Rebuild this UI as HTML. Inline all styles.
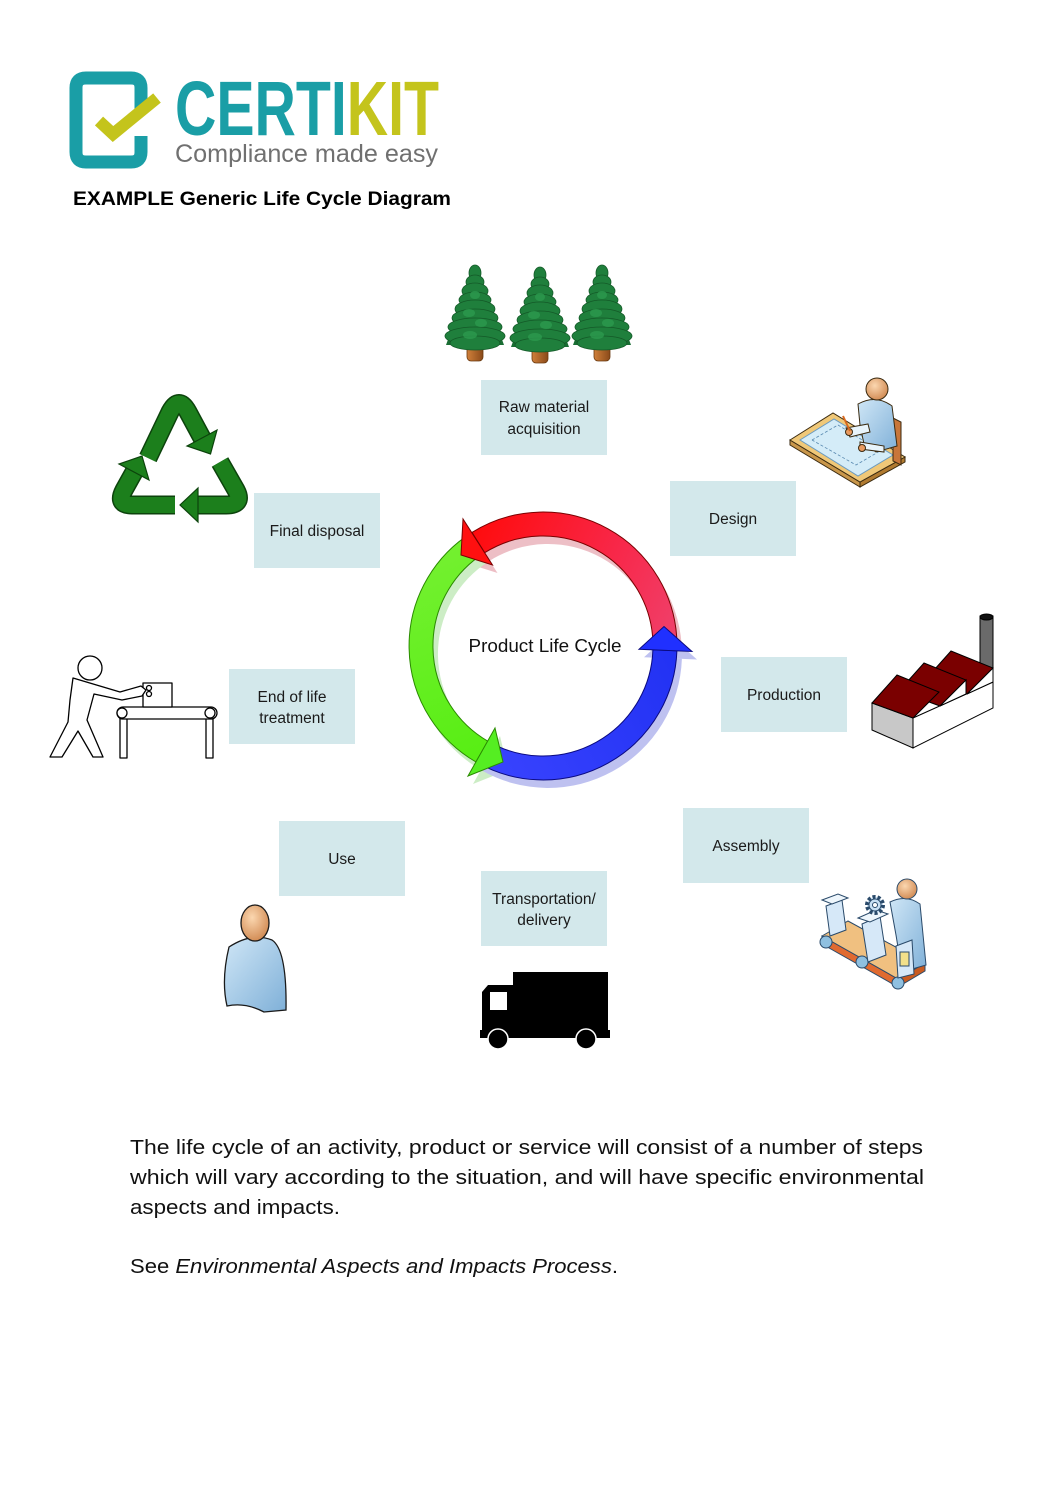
<!DOCTYPE html>
<html><head><meta charset="utf-8"><style>
html,body{margin:0;padding:0;background:#fff;}
svg{display:block;}
text{font-family:"Liberation Sans",Arial,sans-serif;}
</style></head><body>
<svg width="1059" height="1497" viewBox="0 0 1059 1497" xmlns="http://www.w3.org/2000/svg">
<defs>
<linearGradient id="gR" gradientUnits="userSpaceOnUse" x1="460" y1="540" x2="690" y2="640"><stop offset="0" stop-color="#ff0a0a"/><stop offset="0.6" stop-color="#f8284a"/><stop offset="1" stop-color="#ee4470"/></linearGradient>
<linearGradient id="gG" gradientUnits="userSpaceOnUse" x1="400" y1="540" x2="500" y2="770"><stop offset="0" stop-color="#77f033"/><stop offset="1" stop-color="#55ee11"/></linearGradient>
<linearGradient id="gB" gradientUnits="userSpaceOnUse" x1="470" y1="760" x2="690" y2="640"><stop offset="0" stop-color="#3a44ff"/><stop offset="1" stop-color="#2030f2"/></linearGradient>
<radialGradient id="gHead" cx="0.4" cy="0.35" r="0.7"><stop offset="0" stop-color="#fbd7b0"/><stop offset="1" stop-color="#d08850"/></radialGradient>
<linearGradient id="gBody" x1="0" y1="0" x2="1" y2="1"><stop offset="0" stop-color="#cfe6f6"/><stop offset="1" stop-color="#7fb0d8"/></linearGradient>
<linearGradient id="gTrunk" x1="0" y1="0" x2="1" y2="0"><stop offset="0" stop-color="#d0803a"/><stop offset="1" stop-color="#8a4a1a"/></linearGradient>
</defs>

<!-- Logo -->
<path d="M141,110 L141,88 Q141,78 131,78 L86,78 Q76,78 76,88 L76,152 Q76,162 86,162 L131,162 Q141,162 141,152 L141,136" fill="none" stroke="#1a9ea6" stroke-width="13"/>
<polyline points="99,121 113,134 157,98" fill="none" stroke="#c4c41c" stroke-width="12" stroke-linejoin="miter"/>
<text x="175" y="135" font-size="77" font-weight="bold" textLength="264" lengthAdjust="spacingAndGlyphs"><tspan fill="#1a9ea6">CERTI</tspan><tspan fill="#c4c41c">KIT</tspan></text>
<text x="175" y="162" font-size="25" fill="#707070" textLength="263" lengthAdjust="spacingAndGlyphs">Compliance made easy</text>
<text x="73" y="205" font-size="19.5" font-weight="bold" fill="#000" textLength="378" lengthAdjust="spacingAndGlyphs">EXAMPLE Generic Life Cycle Diagram</text>

<!-- Trees -->
<g id="tree1" transform="translate(475,265)">
 <rect x="-8" y="76" width="16" height="20" rx="4" fill="url(#gTrunk)" stroke="#6a3a10" stroke-width="0.8"/>
 <polygon points="0,0 -29,80 29,80" fill="#1a6e34"/>
 <g fill="#1f7f3c" stroke="#145a28" stroke-width="0.8">
  <ellipse cx="0" cy="8" rx="6" ry="8"/>
  <ellipse cx="0" cy="17" rx="9" ry="7"/>
  <ellipse cx="0" cy="26" rx="13" ry="8"/>
  <ellipse cx="0" cy="35" rx="16" ry="8"/>
  <ellipse cx="0" cy="44" rx="20" ry="9"/>
  <ellipse cx="0" cy="53" rx="23" ry="9"/>
  <ellipse cx="0" cy="62" rx="27" ry="9"/>
  <ellipse cx="0" cy="71" rx="30" ry="9"/>
  <ellipse cx="0" cy="78" rx="25" ry="7"/>
 </g>
 <g fill="#2c9a4e" opacity="0.8"><ellipse cx="0" cy="30" rx="5" ry="4"/><ellipse cx="-6" cy="48" rx="6" ry="4"/><ellipse cx="6" cy="58" rx="6" ry="4"/><ellipse cx="-5" cy="70" rx="7" ry="4"/></g>
</g>
<g transform="translate(65,2)"><use href="#tree1"/></g>
<g transform="translate(127,0)"><use href="#tree1"/></g>

<!-- Recycle -->
<g fill="none" stroke-linejoin="round">
 <g stroke="#0c430c" stroke-width="19">
  <path d="M175,505 L132,505 Q116,505 124,490 L134,472"/>
  <path d="M148,458 L170,412 Q179,395 188,412 L202,438"/>
  <path d="M220,462 L236,490 Q244,505 226,505 L198,505"/>
 </g>
 <g stroke="#1c7f1c" stroke-width="16">
  <path d="M175,505 L132,505 Q116,505 124,490 L134,472"/>
  <path d="M148,458 L170,412 Q179,395 188,412 L202,438"/>
  <path d="M220,462 L236,490 Q244,505 226,505 L198,505"/>
 </g>
</g>
<g fill="#1c7f1c" stroke="#0c430c" stroke-width="1.2">
 <polygon points="149,480 119,464 142,456"/>
 <polygon points="187,446 217,430 210.5,454"/>
 <polygon points="198,522 198,488 180,505"/>
</g>

<!-- Designer -->
<g stroke="#3a2a10" stroke-width="1">
 <polygon points="790,440 860,482 860,487 790,445" fill="#c8964a"/>
 <polygon points="860,482 905,457 905,462 860,487" fill="#b07a30"/>
 <polygon points="790,440 833,413 905,457 860,482" fill="#f0c878"/>
 <polygon points="800,440 834,419 893,455 858,476" fill="#d4ecf8" stroke="#6a9ac0"/>
 <polyline points="812,440 838,425 880,451 856,465 812,440" fill="none" stroke="#5a8ab0" stroke-dasharray="3,2" stroke-width="0.8"/>
 <polygon points="893,418 901,422 901,465 893,461" fill="#c8763a"/>
 <path d="M858,404 Q876,394 892,406 L897,446 L876,452 L864,444 L860,425 Z" fill="url(#gBody)"/>
 <path d="M846,428 L868,424 L870,432 L850,437 Z" fill="#e8f4fb"/>
 <path d="M860,442 L884,446 L884,452 L860,449 Z" fill="#e8f4fb"/>
 <circle cx="877" cy="389" r="11" fill="url(#gHead)"/>
 <circle cx="849" cy="432" r="3.5" fill="#e89a60"/>
 <circle cx="862" cy="448" r="3.5" fill="#e89a60"/>
 <line x1="843" y1="416" x2="850" y2="431" stroke="#d86a20" stroke-width="2"/>
</g>

<!-- Factory -->
<g stroke="#000" stroke-width="1">
 <rect x="980" y="616" width="13" height="55" fill="#6a6a6a"/>
 <ellipse cx="986.5" cy="617" rx="6.5" ry="3" fill="#111"/>
 <polygon points="913,748 913,718 993,682 993,708" fill="#fff"/>
 <polygon points="872,703 913,718 913,748 872,730" fill="#c8c8c8"/>
 <polygon points="926,679 951,651 993,668 967,694" fill="#7a0000"/>
 <polygon points="967,694 993,668 993,682" fill="#fff"/>
 <polygon points="899,691 924,663 966,680 940,706" fill="#7a0000"/>
 <polygon points="940,706 966,680 966,694" fill="#fff"/>
 <polygon points="872,703 897,675 939,692 913,718" fill="#7a0000"/>
</g>

<!-- End of life person + conveyor -->
<g fill="#fff" stroke="#000" stroke-width="1.3" stroke-linejoin="round">
 <rect x="120" y="718" width="7" height="40"/>
 <rect x="206" y="718" width="7" height="40"/>
 <rect x="117" y="707" width="100" height="12" rx="6"/>
 <circle cx="122" cy="713" r="5"/>
 <circle cx="210" cy="713" r="5"/>
 <rect x="143" y="683" width="29" height="24"/>
 <circle cx="90" cy="668" r="12"/>
 <path d="M73,678 L120,692 L141,686 L146,690 L142,696 L122,700 L94,694 L87,720 L103,757 L93,757 L78,731 L62,757 L50,757 L68,722 L70,700 Z"/>
 <circle cx="149" cy="688" r="2.5"/><circle cx="149" cy="694" r="2.5"/>
</g>

<!-- User -->
<g stroke="#1a1a1a" stroke-width="1.3">
 <path d="M229,947 Q252,932 272,940 Q287,950 286,1010 L264,1012 Q245,1002 227,1006 Q221,980 229,947 Z" fill="url(#gBody)"/>
 <ellipse cx="255" cy="923" rx="14" ry="18" fill="url(#gHead)"/>
</g>

<!-- Truck -->
<g fill="#000">
 <rect x="513" y="972" width="95" height="66"/>
 <path d="M482,1037 L482,992 L488,985 L513,985 L513,1037 Z"/>
 <rect x="480" y="1030" width="130" height="8"/>
 <circle cx="498" cy="1039" r="10" stroke="#fff" stroke-width="1.5"/>
 <circle cx="586" cy="1039" r="10" stroke="#fff" stroke-width="1.5"/>
</g>
<rect x="490" y="992" width="17" height="18" fill="#fff"/>

<!-- Assembly -->
<g stroke="#2a4a6a" stroke-width="1">
 <polygon points="822,936 898,979 898,987 822,944" fill="#e06a30"/>
 <polygon points="898,979 925,963 925,971 898,987" fill="#c85a20"/>
 <polygon points="822,936 848,921 925,963 898,979" fill="#f0c080"/>
 <circle cx="826" cy="942" r="6" fill="#8fc0e0"/>
 <circle cx="862" cy="962" r="6" fill="#8fc0e0"/>
 <circle cx="898" cy="983" r="6" fill="#8fc0e0"/>
 <path d="M890,902 Q906,894 920,904 L926,965 L902,972 L896,935 Z" fill="url(#gBody)"/>
 <circle cx="907" cy="889" r="10" fill="url(#gHead)"/>
 <polygon points="826,906 842,900 846,930 830,936" fill="#d6e8f8"/>
 <polygon points="822,900 838,894 848,898 832,904" fill="#eef6fc"/>
 <polygon points="862,924 880,916 886,955 868,962" fill="#d6e8f8"/>
 <polygon points="858,918 876,910 888,914 870,922" fill="#eef6fc"/>
 <polygon points="896,946 912,940 914,974 898,978" fill="#d6e8f8"/>
 <rect x="900" y="952" width="9" height="14" fill="#f2e08a"/>
 <circle cx="875" cy="905" r="8" fill="#c8e0f4" stroke-dasharray="3,2" stroke-width="4"/>
 <circle cx="875" cy="905" r="6" fill="#c8e0f4"/>
 <circle cx="875" cy="905" r="2.5" fill="#fff"/>
</g>

<!-- Boxes -->
<g fill="#d3e8eb">
 <rect x="481" y="380" width="126" height="75"/>
 <rect x="670" y="481" width="126" height="75"/>
 <rect x="254" y="493" width="126" height="75"/>
 <rect x="721" y="657" width="126" height="75"/>
 <rect x="229" y="669" width="126" height="75"/>
 <rect x="279" y="821" width="126" height="75"/>
 <rect x="683" y="808" width="126" height="75"/>
 <rect x="481" y="871" width="126" height="75"/>
</g>
<g font-size="15.5" fill="#1a1a1a" text-anchor="middle">
 <text x="544" y="412">Raw material</text>
 <text x="544" y="434">acquisition</text>
 <text x="733" y="524">Design</text>
 <text x="317" y="536">Final disposal</text>
 <text x="784" y="700">Production</text>
 <text x="292" y="702">End of life</text>
 <text x="292" y="723">treatment</text>
 <text x="342" y="864">Use</text>
 <text x="746" y="851">Assembly</text>
 <text x="544" y="904">Transportation/</text>
 <text x="544" y="925">delivery</text>
</g>

<!-- Cycle shadows -->
<g transform="translate(5,8)" opacity="0.45">
 <path d="M677,646 A134,134 0 0 0 472,532.4 L484.7,552.7 A110,110 0 0 1 653,646 Z" fill="#d87080"/>
 <polygon points="463,519 461,555 492.5,565" fill="#d87080"/>
 <path d="M472,532.4 A134,134 0 0 0 476,762 L488,741.3 A110,110 0 0 1 484.7,552.7 Z" fill="#90d880"/>
 <polygon points="468,776 503,762 495,728" fill="#90d880"/>
 <path d="M476,762 A134,134 0 0 0 676.9,650.7 L652.9,649.8 A110,110 0 0 1 488,741.3 Z" fill="#7078e0"/>
 <polygon points="692,651.5 664,626.5 639,649.3" fill="#7078e0"/>
</g>
<!-- Cycle bands -->
<path d="M472,532.4 A134,134 0 0 0 476,762 L488,741.3 A110,110 0 0 1 484.7,552.7 Z" fill="url(#gG)" stroke="#2a8a00" stroke-width="1"/>
<path d="M476,762 A134,134 0 0 0 676.9,650.7 L652.9,649.8 A110,110 0 0 1 488,741.3 Z" fill="url(#gB)" stroke="#0a0a80" stroke-width="1"/>
<path d="M677,646 A134,134 0 0 0 472,532.4 L484.7,552.7 A110,110 0 0 1 653,646 Z" fill="url(#gR)" stroke="#7a0000" stroke-width="1"/>
<!-- Heads -->
<polygon points="463,519 461,555 492.5,565" fill="#ff1010" stroke="#7a0000" stroke-width="1"/>
<polygon points="468,776 503,762 495,728" fill="#55ee22" stroke="#2a8a00" stroke-width="1"/>
<polygon points="692,651.5 664,626.5 639,649.3" fill="#2030ff" stroke="#0a0a80" stroke-width="1"/>
<text x="545" y="652" font-size="18" fill="#111" text-anchor="middle" textLength="153" lengthAdjust="spacingAndGlyphs">Product Life Cycle</text>

<!-- Paragraph -->
<g font-size="20" fill="#111">
 <text x="130" y="1154" textLength="793" lengthAdjust="spacingAndGlyphs">The life cycle of an activity, product or service will consist of a number of steps</text>
 <text x="130" y="1184" textLength="794" lengthAdjust="spacingAndGlyphs">which will vary according to the situation, and will have specific environmental</text>
 <text x="130" y="1214" textLength="210" lengthAdjust="spacingAndGlyphs">aspects and impacts.</text>
 <text x="130" y="1273" textLength="488" lengthAdjust="spacingAndGlyphs">See <tspan font-style="italic">Environmental Aspects and Impacts Process</tspan>.</text>
</g>
</svg>
</body></html>
